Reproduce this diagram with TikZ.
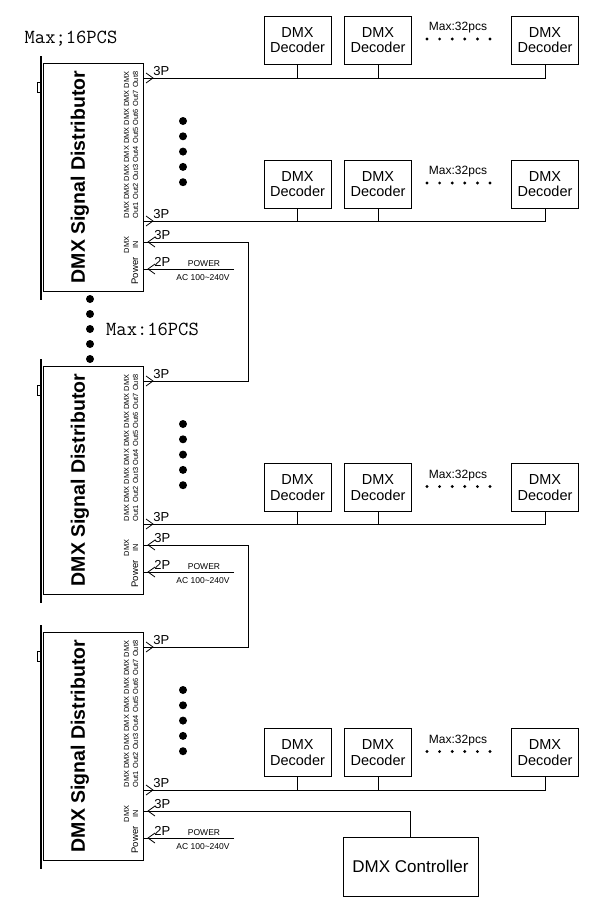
\documentclass[tikz,border=0pt]{standalone}
\usepackage{fontspec}
\setmainfont{Liberation Sans}
\begin{document}
\begin{tikzpicture}[x=1pt,y=-1pt,line width=0.8pt,
	decoder/.style={draw, line width=1pt, minimum width=67pt, minimum height=48pt, align=center, inner sep=0pt, font=\fontsize{14.5}{15.5}\selectfont},
	distbox/.style={draw, line width=1pt, minimum width=100pt, minimum height=228pt, inner sep=0pt},
	portlbl/.style={rotate=90, align=center, inner sep=0pt, font=\fontsize{7.4}{9}\selectfont},
	pinlbl/.style={above right, inner sep=1pt, font=\fontsize{13}{13}\selectfont},
	small/.style={inner sep=0pt, font=\fontsize{8.5}{9}\selectfont},
	maxlbl/.style={inner sep=0pt, font=\ttfamily\fontsize{20}{20}\selectfont},
	outtip/.pic={\draw (-4,-5) -- (3,0) -- (-4,5);},
	intip/.pic={\draw (4,-5) -- (-3,0) -- (4,5);}]
	\useasboundingbox (0,0) rectangle (591,905);
	
	% Distributors
	\foreach \d/\t in {d1/63, d2/366, d3/632} {
		\node[distbox] (\d) at (93,\t+114) {};
		\draw[line width=2.5pt] (41,\t-7) -- (41,\t+237);
		\draw[line width=1pt] (40,\t+19) rectangle (37,\t+29);
		\node[rotate=90, font=\bfseries\fontsize{19.5}{19.5}\selectfont] (\d-title) at (80,\t+114) {DMX Signal Distributor};
		\foreach \k in {1,...,8}
			\node[portlbl] (\d-l\k) at (131,{\t+147-(\k-1)*18.6}) {DMX\\Out\k};
		\node[portlbl] (\d-lin) at (131,\t+182) {DMX\\IN};
		\node[portlbl, font=\fontsize{9.5}{9.5}\selectfont] (\d-lpw) at (135,\t+208) {Power};
		% ports
		\coordinate (\d-o8) at (143,\t+15);
		\coordinate (\d-o1) at (143,\t+158);
		\coordinate (\d-in) at (143,\t+179);
		\coordinate (\d-pw) at (143,\t+206);
		\pic at (150,\t+15) {outtip};
		\pic at (150,\t+158) {outtip};
		\pic at (151,\t+179) {intip};
		\pic at (151,\t+206) {intip};
		\node[pinlbl] (\d-p8) at (152,\t+14) {3P};
		\node[pinlbl] (\d-p1) at (152,\t+157) {3P};
		\node[pinlbl] (\d-pi) at (153,\t+178) {3P};
		\node[pinlbl] (\d-pp) at (153,\t+205) {2P};
		% power input
		\coordinate (\d-ac) at (234,\t+206);
		\draw (\d-ac) -- (\d-pw);
		\node[small, anchor=south] (\d-power) at (204,\t+203.5) {POWER};
		\node[small, anchor=north] (\d-volt) at (203,\t+211) {AC 100\textasciitilde240V};
		% more outputs
		\foreach \i in {0,...,4}
			\fill (183,\t+58+\i*15.3) circle (4);
	}
	
	% Decoders
	\foreach \r/\y in {1/40, 2/184, 3/487.5, 4/752.5} {
		\node[decoder] (dec\r-1) at (297.5,\y) {DMX\\Decoder};
		\node[decoder] (dec\r-2) at (378,\y) {DMX\\Decoder};
		\node[decoder] (dec\r-3) at (545,\y) {DMX\\Decoder};
		\node[inner sep=0pt, font=\fontsize{12}{12}\selectfont] (max\r) at (458,\y-12) {Max:32pcs};
		\foreach \i in {0,...,5}
			\fill (427+\i*12.6,\y-1) circle (1.6);
	}
	\foreach \r/\p in {1/d1-o8, 2/d1-o1, 3/d2-o1, 4/d3-o1} {
		\draw (\p) -| (dec\r-3.south);
		\draw (dec\r-1.south) -- (dec\r-1.south |- \p);
		\draw (dec\r-2.south) -- (dec\r-2.south |- \p);
	}
	
	% Chain
	\coordinate (loop) at (248,0);
	\draw (d2-o8) -- (d2-o8 -| loop) |- (d1-in);
	\draw (d3-o8) -- (d3-o8 -| loop) |- (d2-in);
	\foreach \i in {0,...,4}
		\fill (90,299+\i*15) circle (4);
	\node[maxlbl] (max16a) at (71,39) {Max;16PCS};
	\node[maxlbl] (max16b) at (152.5,329) {Max:16PCS};
	
	% Controller
	\node[draw, line width=1pt, minimum width=135pt, minimum height=59pt, font=\fontsize{17}{17}\selectfont] (ctrl) at (410.5,866.5) {DMX Controller};
	\draw (d3-in) -| (ctrl.north);
\end{tikzpicture}
\end{document}
